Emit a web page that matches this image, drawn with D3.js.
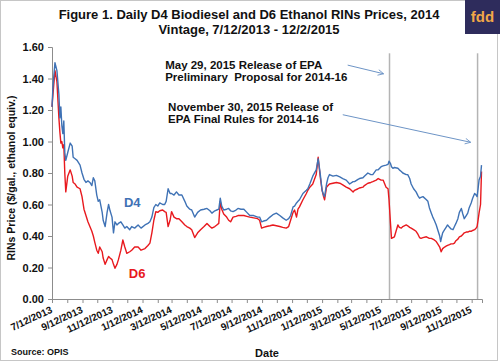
<!DOCTYPE html>
<html>
<head>
<meta charset="utf-8">
<script src="https://cdn.jsdelivr.net/npm/d3@7"></script>
<style>
  body { margin: 0; background: #fff; }
  svg { display: block; font-family: "Liberation Sans", Arial, sans-serif; }
</style>
</head>
<body>
<div id="chart"></div>
<script>
// Dates (roughly every few trading days)
const dates = [
  "2013-07-12","2013-07-14","2013-07-18","2013-07-22","2013-07-26","2013-07-28","2013-07-30","2013-08-01",
  "2013-08-03","2013-08-05","2013-08-07","2013-08-09","2013-08-13","2013-08-18","2013-08-22","2013-08-24",
  "2013-08-28","2013-09-01","2013-09-07","2013-09-11","2013-09-15","2013-09-19","2013-09-23","2013-09-27",
  "2013-10-01","2013-10-04","2013-10-07","2013-10-11","2013-10-14","2013-10-17","2013-10-22","2013-10-24",
  "2013-10-28","2013-11-01","2013-11-04","2013-11-07","2013-11-11","2013-11-14","2013-11-17","2013-11-21",
  "2013-11-24","2013-11-29","2013-12-03","2013-12-07","2013-12-11","2013-12-17","2013-12-21","2013-12-27",
  "2014-01-03","2014-01-09","2014-01-17","2014-01-23","2014-01-27","2014-01-31","2014-02-04","2014-02-08",
  "2014-02-12","2014-02-16","2014-02-22","2014-02-26","2014-03-01","2014-03-05","2014-03-09","2014-03-12",
  "2014-03-17","2014-03-22","2014-03-27","2014-04-02","2014-04-08","2014-04-12","2014-04-18","2014-04-22",
  "2014-04-28","2014-05-04","2014-05-10","2014-05-17","2014-05-23","2014-05-29","2014-06-02","2014-06-08",
  "2014-06-12","2014-06-16","2014-06-19","2014-06-22","2014-06-26","2014-07-02","2014-07-06","2014-07-10",
  "2014-07-15","2014-07-21","2014-07-25","2014-07-31","2014-08-06","2014-08-12","2014-08-18","2014-08-26",
  "2014-09-03","2014-09-07","2014-09-11","2014-09-15","2014-09-21","2014-09-28","2014-10-04","2014-10-11",
  "2014-10-18","2014-10-24","2014-10-31","2014-11-05","2014-11-09","2014-11-14","2014-11-17","2014-11-21",
  "2014-11-24","2014-11-27","2014-12-04","2014-12-11","2014-12-14","2014-12-18","2014-12-24","2014-12-31",
  "2015-01-04","2015-01-08","2015-01-12","2015-01-15","2015-01-17","2015-01-21","2015-01-24","2015-01-27",
  "2015-02-03","2015-02-10","2015-02-17","2015-02-23","2015-03-02","2015-03-09","2015-03-16","2015-03-19",
  "2015-03-26","2015-03-29","2015-04-05","2015-04-08","2015-04-15","2015-04-21","2015-04-25","2015-05-02",
  "2015-05-06","2015-05-12","2015-05-16","2015-05-22","2015-05-26","2015-05-28","2015-05-31","2015-06-02",
  "2015-06-05","2015-06-08","2015-06-15","2015-06-18","2015-06-22","2015-06-25","2015-07-02","2015-07-05",
  "2015-07-09","2015-07-12","2015-07-17","2015-07-22","2015-07-26","2015-07-29","2015-08-01","2015-08-05",
  "2015-08-12","2015-08-15","2015-08-18","2015-08-22","2015-08-25","2015-08-28","2015-09-01","2015-09-04",
  "2015-09-08","2015-09-10","2015-09-11","2015-09-14","2015-09-18","2015-09-21","2015-09-24","2015-09-28",
  "2015-10-01","2015-10-05","2015-10-08","2015-10-11","2015-10-15","2015-10-18","2015-10-22","2015-10-25",
  "2015-10-28","2015-11-01","2015-11-04","2015-11-07","2015-11-11","2015-11-14","2015-11-18","2015-11-21",
  "2015-11-23","2015-11-25","2015-11-27","2015-11-30","2015-12-02"
];

// D4 biodiesel RIN price ($/gal)
const d4 = [
  1.22,1.35,1.50,1.45,1.30,1.15,1.22,1.10, 1.05,1.13,0.93,0.88,0.93,0.99,0.97,0.90,
  0.89,0.88,0.85,0.80,0.76,0.74,0.75,0.74, 0.72,0.77,0.75,0.66,0.62,0.63,0.55,0.50,
  0.46,0.55,0.60,0.56,0.52,0.42,0.49,0.47, 0.48,0.49,0.47,0.45,0.46,0.44,0.46,0.45,
  0.47,0.45,0.47,0.48,0.49,0.52,0.58,0.60, 0.59,0.61,0.60,0.60,0.62,0.70,0.67,0.67,
  0.66,0.68,0.66,0.66,0.62,0.59,0.57,0.565, 0.52,0.55,0.565,0.57,0.575,0.56,0.545,0.56,
  0.565,0.57,0.64,0.59,0.565,0.57,0.575,0.56, 0.555,0.565,0.575,0.57,0.57,0.55,0.53,0.53,
  0.52,0.52,0.49,0.495,0.50,0.52,0.535,0.545, 0.53,0.515,0.50,0.51,0.53,0.585,0.59,0.61,
  0.62,0.63,0.67,0.69,0.70,0.73,0.78,0.82, 0.89,0.80,0.69,0.66,0.65,0.73,0.77,0.79,
  0.78,0.785,0.775,0.765,0.755,0.73,0.745,0.745, 0.76,0.765,0.77,0.78,0.80,0.79,0.79,0.82,
  0.82,0.84,0.845,0.85,0.855,0.875,0.86,0.84, 0.83,0.835,0.83,0.82,0.81,0.80,0.79,0.79,
  0.765,0.73,0.70,0.68,0.655,0.64,0.645,0.65, 0.63,0.62,0.58,0.545,0.52,0.50,0.47,0.44,
  0.40,0.365,0.38,0.42,0.44,0.455,0.47,0.455, 0.445,0.44,0.46,0.48,0.51,0.55,0.575,0.54,
  0.51,0.53,0.545,0.58,0.61,0.64,0.67,0.66, 0.65,0.70,0.755,0.78,0.85
];

// D6 ethanol RIN price ($/gal)
const d6 = [
  1.22,1.30,1.45,1.38,1.15,1.06,0.99,1.00, 0.96,0.98,0.80,0.68,0.78,0.82,0.78,0.74,
  0.73,0.71,0.70,0.65,0.57,0.53,0.49,0.46, 0.43,0.40,0.36,0.31,0.29,0.33,0.30,0.26,
  0.22,0.25,0.27,0.26,0.25,0.22,0.195,0.22, 0.25,0.31,0.375,0.33,0.29,0.30,0.31,0.33,
  0.33,0.31,0.32,0.34,0.355,0.42,0.50,0.555, 0.55,0.56,0.565,0.555,0.55,0.46,0.50,0.555,
  0.52,0.51,0.51,0.49,0.47,0.46,0.45,0.44, 0.39,0.42,0.44,0.46,0.48,0.46,0.45,0.46,
  0.47,0.48,0.62,0.57,0.54,0.52,0.50,0.49, 0.52,0.525,0.53,0.53,0.53,0.525,0.52,0.515,
  0.51,0.50,0.45,0.455,0.46,0.465,0.47,0.465, 0.46,0.455,0.45,0.46,0.50,0.55,0.565,0.52,
  0.57,0.585,0.63,0.67,0.69,0.71,0.73,0.79, 0.90,0.78,0.69,0.65,0.63,0.71,0.72,0.73,
  0.735,0.74,0.735,0.725,0.71,0.70,0.68,0.69, 0.70,0.705,0.71,0.72,0.735,0.74,0.745,0.755,
  0.765,0.755,0.755,0.71,0.70,0.63,0.48,0.385, 0.39,0.395,0.47,0.455,0.45,0.46,0.47,0.465,
  0.455,0.45,0.44,0.43,0.41,0.39,0.385,0.39, 0.395,0.39,0.385,0.385,0.38,0.375,0.365,0.35,
  0.33,0.31,0.30,0.32,0.33,0.335,0.34,0.345, 0.35,0.35,0.355,0.37,0.38,0.395,0.40,0.41,
  0.42,0.425,0.425,0.43,0.43,0.435,0.44,0.45, 0.46,0.50,0.545,0.60,0.81
];

// EPA announcement markers
const eventDates = ["2015-05-29", "2015-11-24"];
const yTicks = [0, 0.2, 0.4, 0.6, 0.8, 1.0, 1.2, 1.4, 1.6];

const W = 500, H = 362;
const margin = {top: 47, right: 18, bottom: 63, left: 52};
const parse = d3.timeParse("%Y-%m-%d");
const blue = "#3f72b5", red = "#e8191e";

const svg = d3.select("#chart").append("svg")
  .attr("width", W).attr("height", H);

// outer border
svg.append("rect")
  .attr("x", 0.5).attr("y", 0.5)
  .attr("width", 497).attr("height", 360)
  .attr("fill", "none").attr("stroke", "#c6c6c6");

const x = d3.scaleTime()
  .domain([parse("2013-07-12"), parse("2015-12-03")])
  .range([margin.left, W - margin.right]);

const y = d3.scaleLinear()
  .domain([0, 1.6])
  .range([H - margin.bottom, margin.top]);

// y axis
const yAxis = svg.append("g")
  .attr("transform", `translate(${margin.left},0)`)
  .call(d3.axisLeft(y).tickValues(yTicks).tickFormat(d3.format(".2f")).tickSize(4).tickPadding(4));
yAxis.select(".domain").attr("stroke", "#8c8c8c");
yAxis.selectAll(".tick line").attr("stroke", "#8c8c8c");
yAxis.selectAll("text")
  .attr("font-size", 11).attr("font-weight", "bold")
  .attr("font-family", "Liberation Sans, Arial, sans-serif").attr("fill", "#111");

// x axis: a tick on the 12th of every month, labels every second month
const monthTicks = d3.timeMonth.range(parse("2013-07-01"), parse("2015-12-01"))
  .map(d => new Date(d.getFullYear(), d.getMonth(), 12));
const fmt = d3.timeFormat("%-m/%-d/%Y");

const xAxis = svg.append("g")
  .attr("transform", `translate(0,${H - margin.bottom})`)
  .call(d3.axisBottom(x).tickValues(monthTicks)
    .tickFormat((d, i) => i % 2 === 0 ? fmt(d) : "").tickSize(4));
xAxis.select(".domain").attr("stroke", "#8c8c8c");
xAxis.selectAll(".tick line").attr("stroke", "#8c8c8c");
xAxis.selectAll("text")
  .attr("font-size", 10).attr("font-weight", "bold")
  .attr("font-family", "Liberation Sans, Arial, sans-serif").attr("fill", "#111")
  .attr("text-anchor", "end")
  .attr("x", 0).attr("y", 0).attr("dy", "0.35em")
  .attr("transform", "translate(-1,10) rotate(-25)");

// event lines
svg.append("g").selectAll("line")
  .data(eventDates)
  .join("line")
  .attr("x1", d => x(parse(d))).attr("x2", d => x(parse(d)))
  .attr("y1", y(1.56)).attr("y2", y(0))
  .attr("stroke", "#b4b4b4").attr("stroke-width", 1.5);

// series
const series = [
  {name: "D6", values: d6, color: red},
  {name: "D4", values: d4, color: blue}
];
const line = d3.line()
  .x((d, i) => x(parse(dates[i])))
  .y(d => y(d));

svg.append("g").selectAll("path")
  .data(series)
  .join("path")
  .attr("d", s => line(s.values))
  .attr("fill", "none")
  .attr("stroke", s => s.color)
  .attr("stroke-width", 1.4)
  .attr("stroke-linejoin", "round");

// series labels
svg.append("text").attr("x", x(parse("2013-12-22"))).attr("y", y(0.61))
  .attr("text-anchor", "middle").attr("dy", "0.35em")
  .attr("font-size", 13).attr("font-weight", "bold").attr("fill", blue).text("D4");
svg.append("text").attr("x", x(parse("2014-01-01"))).attr("y", y(0.165))
  .attr("text-anchor", "middle").attr("dy", "0.35em")
  .attr("font-size", 13).attr("font-weight", "bold").attr("fill", red).text("D6");

// annotations
const notes = [
  {lines: ["May 29, 2015 Release of EPA", "Preliminary\u00a0 Proposal for 2014-16"], at: ["2014-02-27", 1.46],
   from: ["2015-03-05", 1.485], to: ["2015-05-17", 1.43]},
  {lines: ["November 30, 2015 Release of", "EPA Final Rules for 2014-16"], at: ["2014-03-05", 1.195],
   from: ["2015-02-23", 1.17], to: ["2015-11-10", 0.995]}
];

svg.append("defs").append("marker")
  .attr("id", "arr").attr("viewBox", "0 0 10 10")
  .attr("refX", 9).attr("refY", 5)
  .attr("markerWidth", 7).attr("markerHeight", 7)
  .attr("orient", "auto")
  .append("path").attr("d", "M1,1 L9,5 L1,9")
  .attr("fill", "none").attr("stroke", "#6d94c6").attr("stroke-width", 1.2);

notes.forEach(n => {
  const t = svg.append("text")
    .attr("x", x(parse(n.at[0]))).attr("y", y(n.at[1]))
    .attr("font-size", 11.5).attr("font-weight", "bold").attr("fill", "#111");
  n.lines.forEach((l, i) => {
    t.append("tspan").attr("x", x(parse(n.at[0]))).attr("dy", i ? 12 : 0).text(l);
  });
  svg.append("line")
    .attr("x1", x(parse(n.from[0]))).attr("y1", y(n.from[1]))
    .attr("x2", x(parse(n.to[0]))).attr("y2", y(n.to[1]))
    .attr("stroke", "#6d94c6").attr("stroke-width", 1)
    .attr("marker-end", "url(#arr)");
});

// title
const title = ["Figure 1. Daily D4 Biodiesel and D6 Ethanol RINs Prices, 2014", "Vintage, 7/12/2013 - 12/2/2015"];
svg.append("g").selectAll("text")
  .data(title)
  .join("text")
  .attr("x", 249).attr("y", (d, i) => 19 + i * 14.5)
  .attr("text-anchor", "middle")
  .attr("font-size", 13).attr("font-weight", "bold").attr("fill", "#111")
  .text(d => d);

// axis titles
svg.append("text")
  .attr("transform", `translate(15,${(y(0) + y(1.6)) / 2 + 5}) rotate(-90)`)
  .attr("text-anchor", "middle")
  .attr("font-size", 10.5).attr("font-weight", "bold").attr("fill", "#111")
  .text("RINs Price ($/gal., ethanol equiv.)");
svg.append("text")
  .attr("x", 267).attr("y", 357)
  .attr("text-anchor", "middle")
  .attr("font-size", 11).attr("font-weight", "bold").attr("fill", "#111")
  .text("Date");
svg.append("text")
  .attr("x", 11).attr("y", 355)
  .attr("font-size", 9).attr("font-weight", "bold").attr("fill", "#111")
  .text("Source: OPIS");

// fdd logo
svg.append("rect").attr("x", 465).attr("y", 0).attr("width", 35).attr("height", 34)
  .attr("fill", "#2e2c5c");
svg.append("text").attr("x", 482.5).attr("y", 22)
  .attr("text-anchor", "middle")
  .attr("font-size", 15).attr("font-weight", "bold").attr("fill", "#f2a848")
  .text("fdd");
</script>
</body>
</html>
